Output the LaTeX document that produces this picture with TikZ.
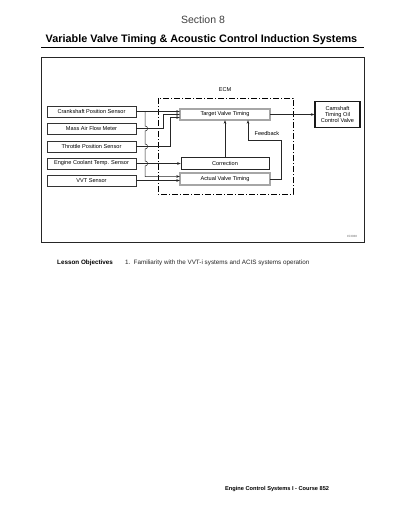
\documentclass[tikz,border=0pt]{standalone}
\usepackage{fontspec}
\setmainfont{Liberation Sans}
\usetikzlibrary{arrows.meta,calc}
\begin{document}
\begin{tikzpicture}[x=1pt,y=-1pt,
  sensor/.style={draw=black!80,line width=0.5pt,minimum width=89pt,minimum height=11pt,inner sep=0pt,font=\fontsize{5.6}{6}\selectfont},
  dblbox/.style={draw=black!85,double=black!35,double distance=1.3pt,line width=0.45pt,minimum width=90pt,minimum height=11pt,inner sep=0pt,font=\fontsize{5.6}{6}\selectfont},
  plainbox/.style={draw=black!85,line width=0.6pt,minimum width=88pt,minimum height=12pt,inner sep=0pt,font=\fontsize{5.6}{6}\selectfont},
  wire/.style={line width=0.5pt,draw=black!85,-{Stealth[length=3.5pt,width=2.6pt]}},
  lbl/.style={inner sep=0pt,font=\fontsize{5.6}{6}\selectfont},
]
\useasboundingbox (0,0) rectangle (400,516);
\fill[white] (0,0) rectangle (400,516);
% header
\node[lbl,font=\fontsize{10.5}{12}\selectfont,text=black!75] (sec) at (203,20) {Section 8};
\node[lbl,font=\fontsize{10.85}{13}\selectfont\bfseries] (title) at (201.5,40) {Variable Valve Timing \& Acoustic Control Induction Systems};
\draw[line width=1pt] (41,48) -- (364,48);
% frame
\draw[line width=0.8pt,draw=black!85] (41,57) rectangle (364,242);
\node[lbl,font=\fontsize{3}{4}\selectfont,text=black!60] (code) at (352,236) {153038};
% ECM
\draw[line width=0.8pt,dash pattern=on 6pt off 2pt on 1pt off 2pt] (158,98) rectangle (293,194);
\node[lbl] (ecm) at (225,90) {ECM};
% sensors
\node[sensor] (crank) at (91.5,111.5) {Crankshaft Position Sensor};
\node[sensor] (maf) at (91.5,128.5) {Mass Air Flow Meter};
\node[sensor] (tps) at (91.5,146.5) {Throttle Position Sensor};
\node[sensor] (ect) at (91.5,163.5) {Engine Coolant Temp. Sensor};
\node[sensor] (vvt) at (91.5,180.5) {VVT Sensor};
% ECM blocks
\node[dblbox] (target) at (225,114.5) {Target Valve Timing};
\node[plainbox] (corr) at (225,163.5) {Correction};
\node[dblbox,minimum height=12pt] (actual) at (225,179) {Actual Valve Timing};
\node[draw=black!90,line width=1.2pt,minimum width=45pt,minimum height=26pt,inner sep=0pt,align=center,font=\fontsize{5.6}{6.3}\selectfont] (cam) at (337.5,114.5) {Camshaft\\Timing Oil\\Control Valve};
\node[lbl] (fb) at (267,133) {Feedback};
% wires
\coordinate (br) at (145,111.5);
\draw[wire] (crank.east) -- (crank.east -| target.west);
\draw[wire] (maf.east) -| (163,114.5) -- (target.west);
\draw[wire] (tps.east) -| (170,117.5) -- ($(target.west)+(0,3)$);
\draw[wire] (ect.east) -- (corr.west);
\draw[wire] (vvt.east) -- (vvt.east -| actual.west);
\draw[wire] (br) -- (145,126) .. controls (148.5,126) and (148.5,131) .. (145,131)
  -- (145,144) .. controls (148.5,144) and (148.5,149) .. (145,149)
  -- (145,161) .. controls (148.5,161) and (148.5,166) .. (145,166)
  -- (145,176.5) -- ($(actual.west)+(0,-2.5)$);
\draw[wire] (corr.north) -- (target.south);
\draw[wire] (actual.east) -- ++(11,0) -- ++(0,-39) -| ($(target.south)+(23,0)$);
\draw[wire] (target.east) -- (cam.west);
% lesson objectives
\node[lbl,anchor=west,font=\fontsize{6.3}{7}\selectfont\bfseries] (lo) at (57,263) {Lesson Objectives};
\node[lbl,anchor=west,font=\fontsize{6.3}{7}\selectfont,text=black!85] (obj) at (125,263) {1.\hspace{3.2pt}Familiarity with the VVT-i systems and ACIS systems operation};
% footer
\node[lbl,anchor=west,font=\fontsize{5.65}{7}\selectfont\bfseries] (foot) at (225,489) {Engine Control Systems I - Course 852};
\end{tikzpicture}
\end{document}
